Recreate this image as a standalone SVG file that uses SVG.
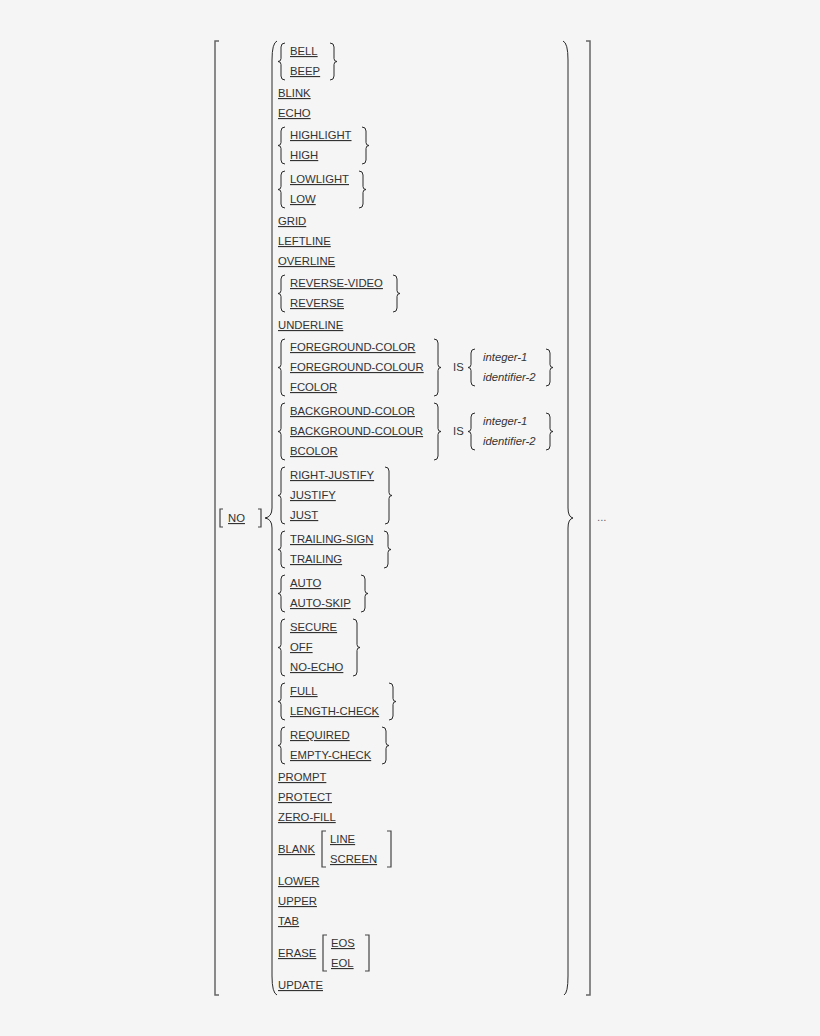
<svg xmlns="http://www.w3.org/2000/svg" width="820" height="1036" viewBox="0 0 820 1036">
<style>
text{font-family:"Liberation Sans",Arial,sans-serif;font-size:11.3px;fill:#333}
.k{text-decoration:underline;text-underline-offset:1.5px}
.i{font-style:italic}
.br{fill:none;stroke:#2a2a2a;stroke-width:1}
.bk{fill:none;stroke:#444;stroke-width:1.2}
.ob{fill:none;stroke:#666;stroke-width:1.5}
.dots{fill:#666}
</style>
<rect width="820" height="1036" fill="#f5f5f5"/>
<g id="outer">
<path class="ob" d="M219,41 L215,41 L215,995 L219,995"/>
<path class="ob" d="M586,41 L590,41 L590,995 L586,995"/>
<path class="br" d="M277,41 Q272,43 272,60 L272,508 Q272,517 265,518 Q272,519 272,528 L272,976 Q272,993 277,995"/>
<path class="br" d="M563,41 Q568,43 568,60 L568,508 Q568,517 573,518 Q568,519 568,528 L568,976 Q568,993 564,995"/>
<text class="dots" x="597" y="521">...</text>
</g>
<g id="no">
<path class="bk" d="M223,509 L220,509 L220,527 L223,527"/>
<path class="bk" d="M258,509 L261,509 L261,527 L258,527"/>
<text class="k" x="228" y="522">NO</text>
</g>
<g id="connectors">
<path class="br" d="M285,43 Q281,43 281,47 L281,58.5 Q281,61.5 278,61.5 Q281,61.5 281,64.5 L281,76 Q281,80 285,80"/>
<path class="br" d="M330,43 Q334,43 334,47 L334,58.5 Q334,61.5 337,61.5 Q334,61.5 334,64.5 L334,76 Q334,80 330,80"/>
<path class="br" d="M285,127 Q281,127 281,131 L281,142.5 Q281,145.5 278,145.5 Q281,145.5 281,148.5 L281,160 Q281,164 285,164"/>
<path class="br" d="M362,127 Q366,127 366,131 L366,142.5 Q366,145.5 369,145.5 Q366,145.5 366,148.5 L366,160 Q366,164 362,164"/>
<path class="br" d="M285,171 Q281,171 281,175 L281,186.5 Q281,189.5 278,189.5 Q281,189.5 281,192.5 L281,204 Q281,208 285,208"/>
<path class="br" d="M359,171 Q363,171 363,175 L363,186.5 Q363,189.5 366,189.5 Q363,189.5 363,192.5 L363,204 Q363,208 359,208"/>
<path class="br" d="M285,275 Q281,275 281,279 L281,290.5 Q281,293.5 278,293.5 Q281,293.5 281,296.5 L281,308 Q281,312 285,312"/>
<path class="br" d="M393,275 Q397,275 397,279 L397,290.5 Q397,293.5 400,293.5 Q397,293.5 397,296.5 L397,308 Q397,312 393,312"/>
<path class="br" d="M285,339 Q281,339 281,343 L281,364.5 Q281,367.5 278,367.5 Q281,367.5 281,370.5 L281,392 Q281,396 285,396"/>
<path class="br" d="M434,339 Q438,339 438,343 L438,364.5 Q438,367.5 441,367.5 Q438,367.5 438,370.5 L438,392 Q438,396 434,396"/>
<path class="br" d="M475,349 Q471,349 471,353 L471,364.5 Q471,367.5 468,367.5 Q471,367.5 471,370.5 L471,382 Q471,386 475,386"/>
<path class="br" d="M546,349 Q550,349 550,353 L550,364.5 Q550,367.5 553,367.5 Q550,367.5 550,370.5 L550,382 Q550,386 546,386"/>
<path class="br" d="M285,403 Q281,403 281,407 L281,428.5 Q281,431.5 278,431.5 Q281,431.5 281,434.5 L281,456 Q281,460 285,460"/>
<path class="br" d="M434,403 Q438,403 438,407 L438,428.5 Q438,431.5 441,431.5 Q438,431.5 438,434.5 L438,456 Q438,460 434,460"/>
<path class="br" d="M475,413 Q471,413 471,417 L471,428.5 Q471,431.5 468,431.5 Q471,431.5 471,434.5 L471,446 Q471,450 475,450"/>
<path class="br" d="M546,413 Q550,413 550,417 L550,428.5 Q550,431.5 553,431.5 Q550,431.5 550,434.5 L550,446 Q550,450 546,450"/>
<path class="br" d="M285,467 Q281,467 281,471 L281,492.5 Q281,495.5 278,495.5 Q281,495.5 281,498.5 L281,520 Q281,524 285,524"/>
<path class="br" d="M385,467 Q389,467 389,471 L389,492.5 Q389,495.5 392,495.5 Q389,495.5 389,498.5 L389,520 Q389,524 385,524"/>
<path class="br" d="M285,531 Q281,531 281,535 L281,546.5 Q281,549.5 278,549.5 Q281,549.5 281,552.5 L281,564 Q281,568 285,568"/>
<path class="br" d="M384,531 Q388,531 388,535 L388,546.5 Q388,549.5 391,549.5 Q388,549.5 388,552.5 L388,564 Q388,568 384,568"/>
<path class="br" d="M285,575 Q281,575 281,579 L281,590.5 Q281,593.5 278,593.5 Q281,593.5 281,596.5 L281,608 Q281,612 285,612"/>
<path class="br" d="M361,575 Q365,575 365,579 L365,590.5 Q365,593.5 368,593.5 Q365,593.5 365,596.5 L365,608 Q365,612 361,612"/>
<path class="br" d="M285,619 Q281,619 281,623 L281,644.5 Q281,647.5 278,647.5 Q281,647.5 281,650.5 L281,672 Q281,676 285,676"/>
<path class="br" d="M353,619 Q357,619 357,623 L357,644.5 Q357,647.5 360,647.5 Q357,647.5 357,650.5 L357,672 Q357,676 353,676"/>
<path class="br" d="M285,683 Q281,683 281,687 L281,698.5 Q281,701.5 278,701.5 Q281,701.5 281,704.5 L281,716 Q281,720 285,720"/>
<path class="br" d="M389,683 Q393,683 393,687 L393,698.5 Q393,701.5 396,701.5 Q393,701.5 393,704.5 L393,716 Q393,720 389,720"/>
<path class="br" d="M285,727 Q281,727 281,731 L281,742.5 Q281,745.5 278,745.5 Q281,745.5 281,748.5 L281,760 Q281,764 285,764"/>
<path class="br" d="M382,727 Q386,727 386,731 L386,742.5 Q386,745.5 389,745.5 Q386,745.5 386,748.5 L386,760 Q386,764 382,764"/>
<path class="bk" d="M326,831 L322,831 L322,867 L326,867"/>
<path class="bk" d="M387,831 L391,831 L391,867 L387,867"/>
<path class="bk" d="M327,935 L323,935 L323,971 L327,971"/>
<path class="bk" d="M365,935 L369,935 L369,971 L365,971"/>
</g>
<g id="bell"><text class="k" x="290" y="55">BELL</text><text class="k" x="290" y="75">BEEP</text></g>
<g id="blink"><text class="k" x="278" y="97">BLINK</text></g>
<g id="echo"><text class="k" x="278" y="117">ECHO</text></g>
<g id="highlight"><text class="k" x="290" y="139">HIGHLIGHT</text><text class="k" x="290" y="159">HIGH</text></g>
<g id="lowlight"><text class="k" x="290" y="183">LOWLIGHT</text><text class="k" x="290" y="203">LOW</text></g>
<g id="grid"><text class="k" x="278" y="225">GRID</text></g>
<g id="leftline"><text class="k" x="278" y="245">LEFTLINE</text></g>
<g id="overline"><text class="k" x="278" y="265">OVERLINE</text></g>
<g id="reverse"><text class="k" x="290" y="287">REVERSE-VIDEO</text><text class="k" x="290" y="307">REVERSE</text></g>
<g id="underline"><text class="k" x="278" y="329">UNDERLINE</text></g>
<g id="foreground"><text class="k" x="290" y="351">FOREGROUND-COLOR</text><text class="k" x="290" y="371">FOREGROUND-COLOUR</text><text class="k" x="290" y="391">FCOLOR</text><text x="453" y="371">IS</text><text class="i" x="483" y="361">integer-1</text><text class="i" x="483" y="381">identifier-2</text></g>
<g id="background"><text class="k" x="290" y="415">BACKGROUND-COLOR</text><text class="k" x="290" y="435">BACKGROUND-COLOUR</text><text class="k" x="290" y="455">BCOLOR</text><text x="453" y="435">IS</text><text class="i" x="483" y="425">integer-1</text><text class="i" x="483" y="445">identifier-2</text></g>
<g id="justify"><text class="k" x="290" y="479">RIGHT-JUSTIFY</text><text class="k" x="290" y="499">JUSTIFY</text><text class="k" x="290" y="519">JUST</text></g>
<g id="trailing"><text class="k" x="290" y="543">TRAILING-SIGN</text><text class="k" x="290" y="563">TRAILING</text></g>
<g id="auto"><text class="k" x="290" y="587">AUTO</text><text class="k" x="290" y="607">AUTO-SKIP</text></g>
<g id="secure"><text class="k" x="290" y="631">SECURE</text><text class="k" x="290" y="651">OFF</text><text class="k" x="290" y="671">NO-ECHO</text></g>
<g id="full"><text class="k" x="290" y="695">FULL</text><text class="k" x="290" y="715">LENGTH-CHECK</text></g>
<g id="required"><text class="k" x="290" y="739">REQUIRED</text><text class="k" x="290" y="759">EMPTY-CHECK</text></g>
<g id="prompt"><text class="k" x="278" y="781">PROMPT</text></g>
<g id="protect"><text class="k" x="278" y="801">PROTECT</text></g>
<g id="zerofill"><text class="k" x="278" y="821">ZERO-FILL</text></g>
<g id="blank"><text class="k" x="278" y="853">BLANK</text><text class="k" x="330" y="843">LINE</text><text class="k" x="330" y="863">SCREEN</text></g>
<g id="lower"><text class="k" x="278" y="885">LOWER</text></g>
<g id="upper"><text class="k" x="278" y="905">UPPER</text></g>
<g id="tab"><text class="k" x="278" y="925">TAB</text></g>
<g id="erase"><text class="k" x="278" y="957">ERASE</text><text class="k" x="331" y="947">EOS</text><text class="k" x="331" y="967">EOL</text></g>
<g id="update"><text class="k" x="278" y="989">UPDATE</text></g>
</svg>
